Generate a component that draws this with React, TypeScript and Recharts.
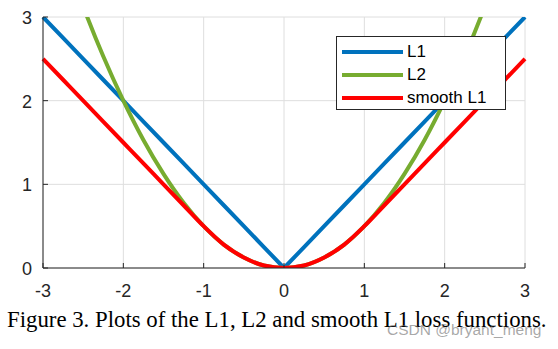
import { LineChart, Line, XAxis, YAxis, CartesianGrid, Legend } from 'recharts';

const xs = [-3, -2.75, -2.5, -2.25, -2, -1.75, -1.5, -1.25, -1, -0.75, -0.5, -0.25, 0, 0.25, 0.5, 0.75, 1, 1.25, 1.5, 1.75, 2, 2.25, 2.5, 2.75, 3];
const l1 = [3, 2.75, 2.5, 2.25, 2, 1.75, 1.5, 1.25, 1, 0.75, 0.5, 0.25, 0, 0.25, 0.5, 0.75, 1, 1.25, 1.5, 1.75, 2, 2.25, 2.5, 2.75, 3];
const l2 = [4.5, 3.78, 3.125, 2.53, 2, 1.53, 1.125, 0.78, 0.5, 0.28, 0.125, 0.03, 0, 0.03, 0.125, 0.28, 0.5, 0.78, 1.125, 1.53, 2, 2.53, 3.125, 3.78, 4.5];
const smoothL1 = [2.5, 2.25, 2, 1.75, 1.5, 1.25, 1, 0.75, 0.5, 0.28, 0.125, 0.03, 0, 0.03, 0.125, 0.28, 0.5, 0.75, 1, 1.25, 1.5, 1.75, 2, 2.25, 2.5];

const xTicks = [-3, -2, -1, 0, 1, 2, 3];
const yTicks = [0, 1, 2, 3];

const series = [
  { key: 'l1', name: 'L1', color: '#0072BD' },
  { key: 'l2', name: 'L2', color: '#77AC30' },
  { key: 'smooth', name: 'smooth L1', color: '#FF0000' },
];

const data = xs.map((x, i) => ({ x, l1: l1[i], l2: l2[i], smooth: smoothL1[i] }));

const FONT = '"Liberation Sans", Arial, sans-serif';
const INK = '#262626';

const BottomTick = ({ x, y, payload }: any) => (
  <g>
    <line x1={x} x2={x} y1={y} y2={y - 5} stroke={INK} />
    <text x={x} y={y + 29} textAnchor="middle" fontSize={18} fill={INK} fontFamily={FONT}>
      {payload.value}
    </text>
  </g>
);

const LeftTick = ({ x, y, payload }: any) => (
  <g>
    <line x1={x} x2={x + 5} y1={y} y2={y} stroke={INK} />
    <text x={x - 11} y={y + 7} textAnchor="end" fontSize={18} fill={INK} fontFamily={FONT}>
      {payload.value}
    </text>
  </g>
);

const TopTick = ({ x, y }: any) => <line x1={x} x2={x} y1={y} y2={y + 5} stroke={INK} />;
const RightTick = ({ x, y }: any) => <line x1={x} x2={x - 5} y1={y} y2={y} stroke={INK} />;

const LegendBox = () => (
  <div
    style={{
      width: 170,
      height: 74,
      border: `1px solid ${INK}`,
      background: '#fff',
      fontFamily: FONT,
      fontSize: 17,
      color: '#000',
      paddingTop: 3,
      boxSizing: 'border-box',
    }}
  >
    {series.map((s) => (
      <div key={s.key} style={{ display: 'flex', alignItems: 'center', height: 23 }}>
        <div style={{ width: 61, height: 4, background: s.color, marginLeft: 5, marginRight: 4 }} />
        <span>{s.name}</span>
      </div>
    ))}
  </div>
);

export default function App() {
  return (
    <div style={{ position: 'absolute', left: 0, top: 0, width: 558, height: 349, background: '#fff' }}>
      <LineChart width={558} height={300} data={data} margin={{ top: 17, right: 33, left: 0, bottom: 0 }}>
        <CartesianGrid stroke="#dedede" strokeWidth={1} />
        <XAxis
          dataKey="x"
          type="number"
          domain={[-3, 3]}
          ticks={xTicks}
          interval={0}
          height={32}
          tickSize={0}
          tickMargin={0}
          tickLine={false}
          axisLine={{ stroke: INK }}
          tick={(p: any) => <BottomTick {...p} />}
        />
        <XAxis
          xAxisId="top"
          orientation="top"
          dataKey="x"
          type="number"
          domain={[-3, 3]}
          ticks={xTicks}
          interval={0}
          height={0}
          tickSize={0}
          tickMargin={0}
          tickLine={false}
          axisLine={{ stroke: INK }}
          tick={(p: any) => <TopTick {...p} />}
        />
        <YAxis
          type="number"
          domain={[0, 3]}
          allowDataOverflow
          ticks={yTicks}
          interval={0}
          width={43}
          tickSize={0}
          tickMargin={0}
          tickLine={false}
          axisLine={{ stroke: INK }}
          tick={(p: any) => <LeftTick {...p} />}
        />
        <YAxis
          yAxisId="right"
          orientation="right"
          type="number"
          domain={[0, 3]}
          allowDataOverflow
          ticks={yTicks}
          interval={0}
          width={0}
          tickSize={0}
          tickMargin={0}
          tickLine={false}
          axisLine={{ stroke: INK }}
          tick={(p: any) => <RightTick {...p} />}
        />
        <Legend
          layout="vertical"
          align="center"
          verticalAlign="middle"
          content={() => <LegendBox />}
          wrapperStyle={{ top: 36, left: 336, width: 170, height: 74 }}
        />
        {series.map((s) => (
          <Line
            key={s.key}
            type={s.key === 'l1' ? 'linear' : 'monotone'}
            dataKey={s.key}
            name={s.name}
            stroke={s.color}
            strokeWidth={4}
            dot={false}
            activeDot={false}
            isAnimationActive={false}
          />
        ))}
      </LineChart>
      <div
        style={{
          position: 'absolute',
          left: 7,
          top: 307,
          fontFamily: '"Liberation Serif", "Times New Roman", serif',
          fontSize: 22.8,
          color: '#000',
          whiteSpace: 'nowrap',
        }}
      >
        Figure 3. Plots of the L1, L2 and smooth L1 loss functions.
      </div>
      <div
        style={{
          position: 'absolute',
          left: 387,
          top: 321,
          fontFamily: FONT,
          fontSize: 15.5,
          color: 'rgba(110,110,110,0.6)',
          whiteSpace: 'nowrap',
        }}
      >
        CSDN @bryant_meng
      </div>
    </div>
  );
}
